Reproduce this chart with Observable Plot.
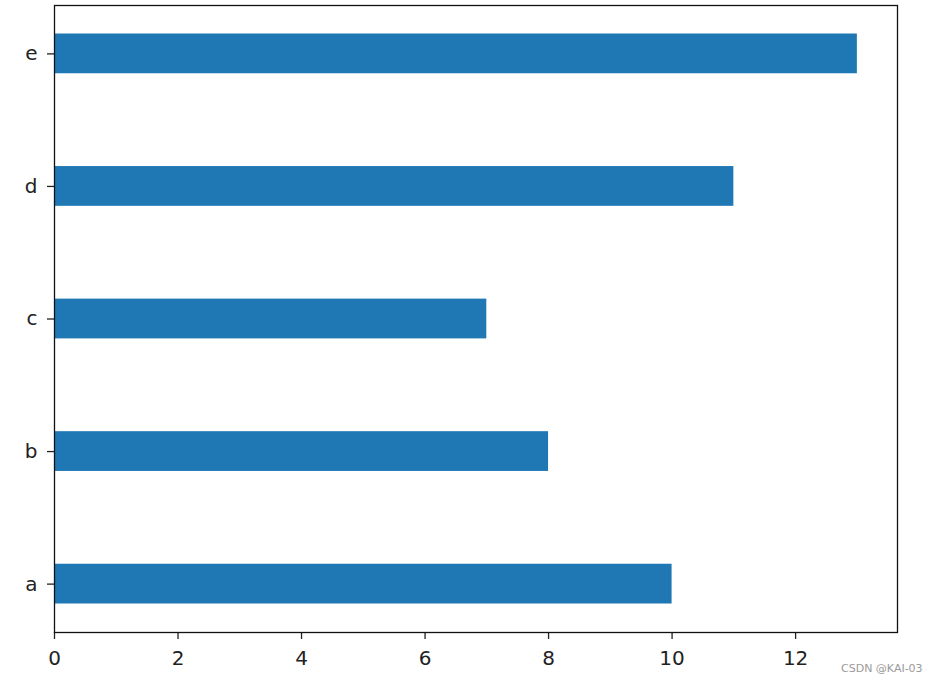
<!DOCTYPE html>
<html>
<head>
<meta charset="utf-8">
<script src="https://cdn.jsdelivr.net/npm/d3@7"></script>
<script src="https://cdn.jsdelivr.net/npm/@observablehq/plot@0.6"></script>
<style>
  html, body { margin: 0; padding: 0; background: #fff; }
  #wrap { position: relative; width: 935px; height: 685px; }
  #mark { position: absolute; left: 841px; top: 662px; font: 11px "DejaVu Sans", sans-serif; color: #9a9a9a; }
</style>
</head>
<body>
<div id="wrap"><div id="mark">CSDN @KAI-03</div></div>
<script>
const categories = ["a", "b", "c", "d", "e"];
const values = [10, 8, 7, 11, 13];
const xTicks = [0, 2, 4, 6, 8, 10, 12];
const barHeight = 0.3;

const data = categories.map((c, i) => ({cat: c, idx: i, value: values[i]}));

const chart = Plot.plot({
  width: 935,
  height: 685,
  marginLeft: 54,
  marginRight: 38,
  marginTop: 5,
  marginBottom: 53,
  style: {fontFamily: "DejaVu Sans, sans-serif", fontSize: "20px", color: "#222", background: "#fff"},
  x: {domain: [0, 13.65]},
  y: {domain: [-0.365, 4.365]},
  marks: [
    Plot.rectX(data, {x1: 0, x2: "value", y1: d => d.idx - barHeight / 2, y2: d => d.idx + barHeight / 2, fill: "#1f77b4"}),
    Plot.axisX({ticks: xTicks, tickSize: 7, tickPadding: 11, fontSize: 20, label: null, strokeWidth: 1.3}),
    Plot.axisY({ticks: categories.map((c, i) => i), tickFormat: i => categories[i], tickSize: 7, tickPadding: 10, fontSize: 20, label: null, strokeWidth: 1.3}),
    Plot.frame({stroke: "#111", strokeWidth: 1.3})
  ]
});
chart.querySelectorAll("text").forEach(t => { t.setAttribute("font-size", "20"); t.style.fontSize = "20px"; });
document.getElementById("wrap").prepend(chart);
</script>
</body>
</html>
